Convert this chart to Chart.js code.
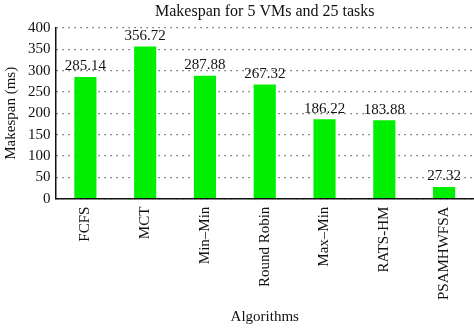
<!DOCTYPE html>
<html>
<head>
<meta charset="utf-8">
<script src="https://cdn.jsdelivr.net/npm/chart.js@4"></script>
<style>
  html, body { margin:0; padding:0; background:#fff; }
  #wrap { width:474px; height:330px; position:relative; }
</style>
</head>
<body>
<div id="wrap"><canvas id="chart"></canvas></div>
<script>
// chart data
const algorithms = ['FCFS', 'MCT', 'Min\u2013Min', 'Round Robin', 'Max\u2013Min', 'RATS-HM', 'PSAMHWFSA'];
const makespan = [285.14, 356.72, 287.88, 267.32, 186.22, 183.88, 27.32];
const yTicks = [0, 50, 100, 150, 200, 250, 300, 350, 400];

const titleText = 'Makespan for 5 VMs and 25 tasks';
const serif = '"Liberation Serif", "DejaVu Serif", serif';

// value labels above bars + title centred on plot area
const barLabels = {
  id: 'barLabels',
  afterDatasetsDraw(chart) {
    const ctx = chart.ctx;
    const meta = chart.getDatasetMeta(0);
    ctx.save();
    ctx.font = '15px ' + serif;
    ctx.fillStyle = '#111';
    ctx.textAlign = 'center';
    ctx.textBaseline = 'bottom';
    meta.data.forEach((bar, i) => {
      ctx.fillText(makespan[i].toFixed(2), bar.x, bar.y - 3);
    });
    ctx.restore();
  },
  afterDraw(chart) {
    const ctx = chart.ctx, a = chart.chartArea;
    ctx.save();
    ctx.font = '16px ' + serif;
    ctx.fillStyle = '#111';
    ctx.textAlign = 'center';
    ctx.textBaseline = 'middle';
    ctx.fillText(titleText, (a.left + a.right) / 2, 12);
    ctx.restore();
  }
};

new Chart(document.getElementById('chart'), {
  type: 'bar',
  data: {
    labels: algorithms,
    datasets: [{
      data: makespan,
      backgroundColor: '#00ee00',
      borderWidth: 0,
      categoryPercentage: 1,
      barPercentage: 0.37
    }]
  },
  options: {
    responsive: true,
    maintainAspectRatio: false,
    animation: false,
    layout: { padding: { top: 28, right: 0, left: 0, bottom: 0 } },
    plugins: { legend: { display: false }, tooltip: { enabled: false } },
    scales: {
      x: {
        grid: { display: false, drawTicks: false },
        border: { color: '#111', width: 1.5 },
        ticks: {
          color: '#111', font: { family: serif, size: 15 },
          minRotation: 90, maxRotation: 90, padding: 8, autoSkip: false
        },
        title: { display: true, text: 'Algorithms', color: '#111',
                 font: { family: serif, size: 15 }, padding: { top: 0, bottom: 4 } }
      },
      y: {
        min: 0, max: 400,
        afterBuildTicks: axis => { axis.ticks = yTicks.map(v => ({ value: v })); },
        grid: { color: '#444', drawTicks: false, lineWidth: 1.2 },
        border: { color: '#111', width: 1.5, dash: [1.2, 4.8] },
        ticks: { color: '#111', font: { family: serif, size: 15 }, padding: 5, autoSkip: false },
        title: { display: true, text: 'Makespan (ms)', color: '#111',
                 font: { family: serif, size: 15 }, padding: { top: 2, bottom: 3 } }
      }
    }
  },
  plugins: [barLabels]
});
</script>
</body>
</html>
